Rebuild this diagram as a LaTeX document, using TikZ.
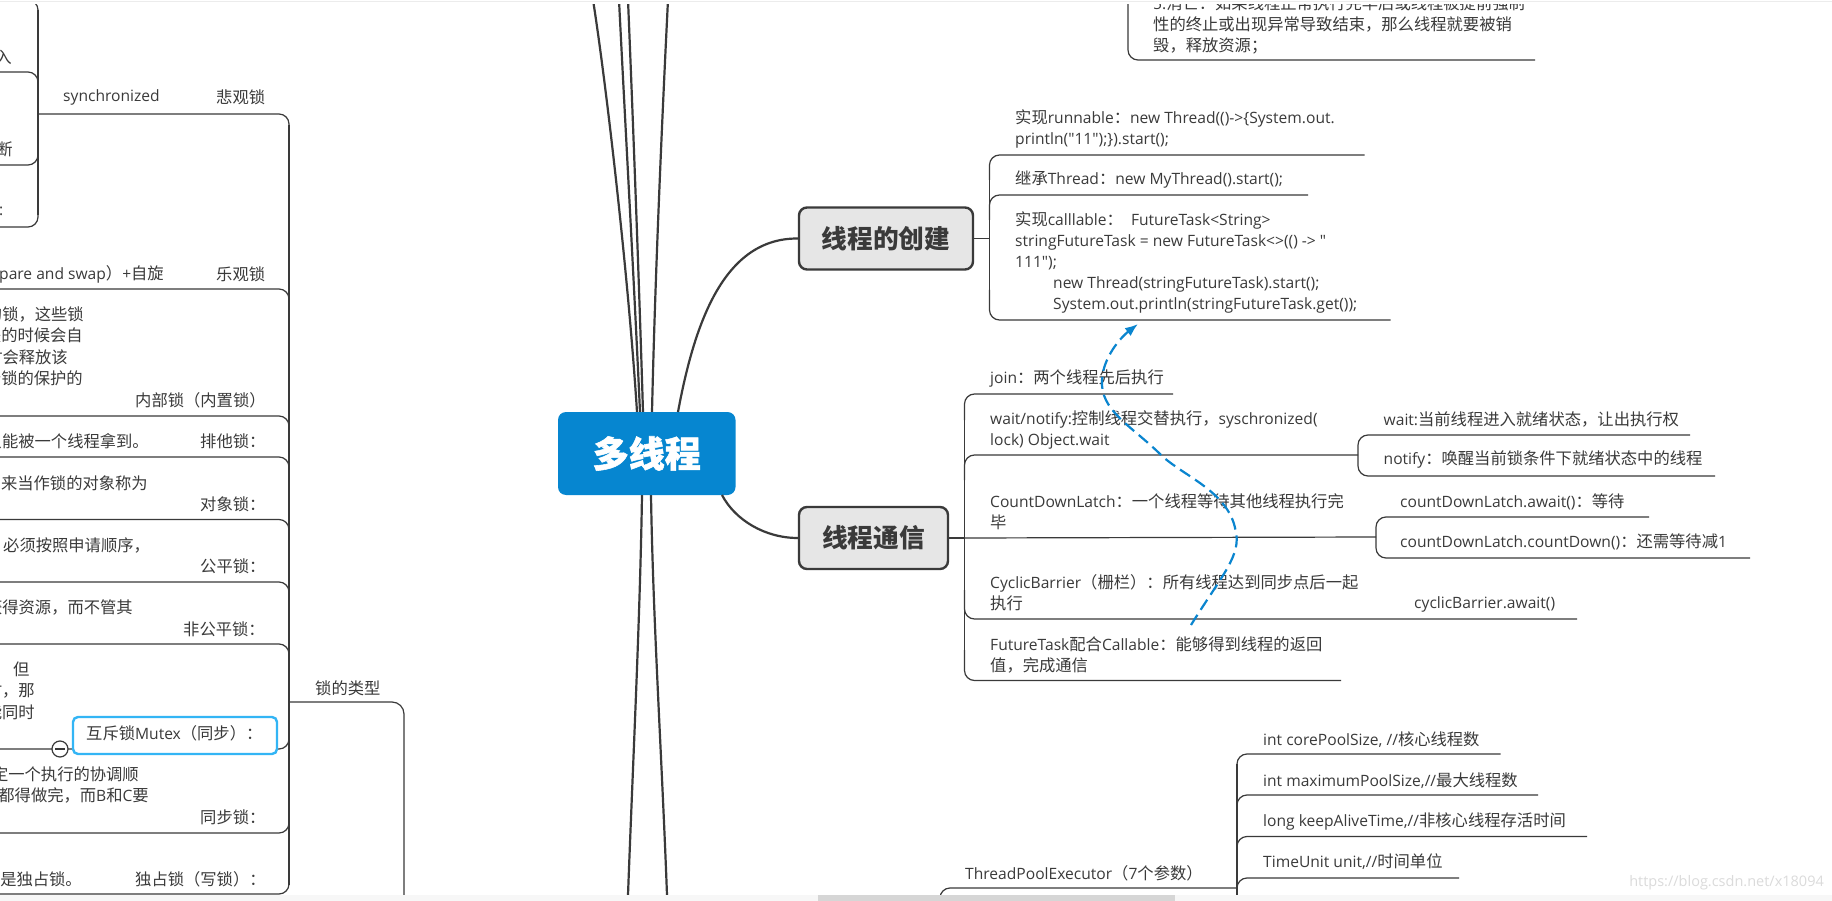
\documentclass[tikz,border=0pt]{standalone}
\usepackage{fontspec}
\usetikzlibrary{arrows.meta}
\setmainfont{Open Sans}
\newfontfamily\latinfont{Open Sans}
\newfontfamily\cjkfont[Scale=1.045]{Noto Sans CJK SC}
\newfontfamily\rootfam[BoldFeatures={FakeBold=1.5}]{Noto Sans CJK SC}
\XeTeXinterchartokenstate=1
\newXeTeXintercharclass\cjkcls
\newcount\cjkc
\cjkc="3000 \loop \XeTeXcharclass\cjkc=\cjkcls \ifnum\cjkc<"9FFF \advance\cjkc 1 \repeat
\cjkc="FF00 \loop \XeTeXcharclass\cjkc=\cjkcls \ifnum\cjkc<"FFEF \advance\cjkc 1 \repeat
\XeTeXinterchartoks 0 \cjkcls={\begingroup\cjkfont}
\XeTeXinterchartoks 4095 \cjkcls={\begingroup\cjkfont}
\XeTeXinterchartoks \cjkcls 0={\endgroup}
\XeTeXinterchartoks \cjkcls 4095={\endgroup}
\definecolor{ink}{HTML}{3A3A3A}
\definecolor{rootblue}{HTML}{0686D0}
\definecolor{topicgray}{HTML}{E6E6E6}
\definecolor{selblue}{HTML}{33B5F5}
\definecolor{arrowblue}{HTML}{0A85CF}
\tikzset{
  x=1pt,y=-1pt,
  txt/.style={inner sep=0pt,yshift=-0.6pt,text=ink,font=\latinfont\fontsize{15.6}{21}\selectfont,align=left},
  tw/.style={txt,anchor=west},
  te/.style={txt,anchor=east},
  rule/.style={draw=ink,line width=1.2pt},
  bracket/.style={rule,rounded corners=10pt},
  trunk/.style={draw=ink,line width=2.2pt},
  topic/.style={rectangle,rounded corners=8pt,draw=ink,line width=2.4pt,fill=topicgray,inner sep=0pt,text=ink,font=\fontsize{24.6}{30}\selectfont\bfseries},
}
\begin{document}
\begin{tikzpicture}
\useasboundingbox (0,0) rectangle (1832,901);
\clip (0,0) rectangle (1832,901);
\fill[white] (0,0) rectangle (1832,901);

% central trunk ends
\coordinate (ta) at (593,0); \coordinate (ra) at (637,412);
\coordinate (tb) at (619,0); \coordinate (rb) at (640,412);
\coordinate (tc) at (628,0); \coordinate (rc) at (643,412);
\coordinate (td) at (668,0); \coordinate (rd) at (652,412);
\coordinate (be) at (628,895); \coordinate (re) at (642,495);
\coordinate (bf) at (667,895); \coordinate (rf) at (651,495);
\coordinate (rg) at (678,412); \coordinate (rh) at (722,495);
\draw[trunk] (ta) .. controls (605,75) and (628,270) .. (ra);
\draw[trunk] (tb) .. controls (625,120) and (634,280) .. (rb);
\draw[trunk] (tc) .. controls (633,120) and (639,280) .. (rc);
\draw[trunk] (td) .. controls (662,120) and (655,280) .. (rd);
\draw[trunk] (re) .. controls (640,620) and (633,760) .. (be);
\draw[trunk] (rf) .. controls (653,620) and (662,760) .. (bf);

\node[rectangle,rounded corners=8pt,fill=rootblue,minimum width=177.5pt,minimum height=83pt,inner sep=0pt,text=white,font=\fontsize{36}{42}\selectfont\let\cjkfont\rootfam\bfseries] (root) at (646.75,453.5) {多线程};
\node[topic,minimum width=174pt,minimum height=62pt] (create) at (886,238.5) {线程的创建};
\node[topic,minimum width=149pt,minimum height=62pt] (comm) at (873.5,538) {线程通信};
\draw[trunk] (rg) .. controls (695,320) and (725,238) .. (create.west);
\draw[trunk] (rh) .. controls (735,520) and (765,538) .. (comm.west);

% ---------- left: lock types
\coordinate (j1) at (38,114);
\coordinate (j2) at (289,702);
\draw[rule,line width=1.6pt] (38,10) -- (38,215);
\draw[bracket] (0,0) -- (38,0) -- (38,30);
\draw[bracket] (0,72) -- (38,72) -- (38,100);
\draw[bracket] (0,165) -- (38,165) -- (38,140);
\draw[bracket] (0,227) -- (38,227) -- (38,200);
\draw[bracket] (j1) -- (289,114) -- (289,150);
\draw[bracket] (0,289) -- (289,289) -- (289,320);
\draw[bracket] (0,416) -- (289,416) -- (289,440);
\draw[bracket] (0,457) -- (289,457) -- (289,480);
\draw[bracket] (0,519.5) -- (289,519.5) -- (289,540);
\draw[bracket] (0,582) -- (289,582) -- (289,600);
\draw[bracket] (0,644) -- (289,644) -- (289,670);
\draw[bracket] (0,749) -- (289,749) -- (289,720);
\draw[bracket] (0,833) -- (289,833) -- (289,800);
\draw[bracket] (0,894) -- (289,894) -- (289,860);
\draw[rule,line width=1.6pt] (289,125) -- (289,885);
\draw[bracket,rounded corners=12pt] (j2) -- (404,702) -- (404,900);

\node[tw] (n1) at (63,97) {synchronized};
\node[tw] (n2) at (216,97) {悲观锁};
\node[te] (n3) at (164,274) {pare and swap）+自旋};
\node[tw] (n4) at (216,274) {乐观锁};
\node[te] (n5) at (12,57) {入};
\node[te] (n6) at (13,149) {断};
\node[tw] (n7) at (-1,211) {:};
\node[te] (n8) at (84,314) {的锁，这些锁};
\node[te] (n9) at (83,335) {块的时候会自};
\node[te] (n10) at (68,357) {时会释放该};
\node[te] (n11) at (83,378) {个锁的保护的};
\node[tw] (n12) at (135,400) {内部锁（内置锁）};
\node[te] (n13) at (149,441) {只能被一个线程拿到。};
\node[tw] (n14) at (200,441) {排他锁：};
\node[te] (n15) at (148,483) {用来当作锁的对象称为};
\node[tw] (n16) at (200,504) {对象锁：};
\node[tw] (n17) at (3,545) {必须按照申请顺序，};
\node[tw] (n18) at (200,566) {公平锁：};
\node[te] (n19) at (133,607) {获得资源，而不管其};
\node[tw] (n20) at (183,629) {非公平锁：};
\node[tw] (n21) at (13,669) {但};
\node[te] (n22) at (35,690) {时，那};
\node[te] (n23) at (35,712) {能同时};
\node[te] (n24) at (139,774) {定一个执行的协调顺};
\node[te] (n25) at (149,795) {都得做完，而B和C要};
\node[tw] (n26) at (200,817) {同步锁：};
\node[te] (n27) at (82,879) {都是独占锁。};
\node[tw] (n28) at (135,879) {独占锁（写锁）：};
\node[tw] (n29) at (315,688) {锁的类型};

\node[rectangle,rounded corners=5pt,draw=selblue,line width=2.4pt,fill=white,minimum width=204pt,minimum height=37pt,inner sep=0pt] (sel) at (175,735.5) {};
\node[tw] (n30) at (86,733) {互斥锁Mutex（同步）：};
\node[circle,draw=ink,line width=1.2pt,fill=white,minimum size=16pt,inner sep=0pt] (fold) at (60,749) {};
\coordinate (fa) at (55,749); \coordinate (fb) at (65,749);
\draw[rule] (fa) -- (fb);

% ---------- top-right fragment
\draw[bracket] (1128,0) -- (1128,60) -- (1535,60);
\node[tw] (m1) at (1153,3) {5.消亡：如果线程正常执行完毕后或线程被提前强制};
\node[tw] (m2) at (1153,24) {性的终止或出现异常导致结束，那么线程就要被销};
\node[tw] (m3) at (1153,45) {毁，释放资源；};

% ---------- creation
\coordinate (c0) at (989.5,238.5);
\draw[rule] (create.east) -- (c0);
\draw[rule,line width=1.6pt] (989.5,165) -- (989.5,310);
\draw[bracket] (989.5,180) -- (989.5,155) -- (1364.5,155);
\draw[bracket] (989.5,220) -- (989.5,195) -- (1308,195);
\draw[bracket] (989.5,290) -- (989.5,320) -- (1390.5,320);
\node[tw] (c1) at (1015,128.5) {实现runnable：new Thread(()->\{System.out.\\println("11");\}).start();};
\node[tw] (c2) at (1015,179) {继承Thread：new MyThread().start();};
\node[tw] (c3) at (1015,261.5) {实现calllable：\ \ FutureTask<String>\\stringFutureTask = new FutureTask<>(() -> "\\111");\\\hspace*{38pt}new Thread(stringFutureTask).start();\\\hspace*{38pt}System.out.println(stringFutureTask.get());};

% ---------- communication
\coordinate (k0) at (964.5,538);
\coordinate (k1) at (1358,455);
\coordinate (k2) at (1376,537);
\draw[rule] (comm.east) -- (k0);
\draw[rule,line width=1.6pt] (964.5,404) -- (964.5,670);
\draw[bracket] (964.5,420) -- (964.5,394) -- (1173,394);
\draw[bracket] (964.5,480) -- (964.5,455) -- (k1);
\draw[rule] (k0) -- (k2);
\draw[bracket] (964.5,590) -- (964.5,619) -- (1577,619);
\draw[bracket] (964.5,650) -- (964.5,680.5) -- (1341,680.5);
\draw[bracket] (1690,435) -- (1358,435) -- (1358,476) -- (1715,476);
\draw[bracket] (1649,517) -- (1376,517) -- (1376,558) -- (1750,558);

\node[tw] (p1) at (990,378) {join：两个线程先后执行};
\node[tw] (p2) at (990,429.5) {wait/notify:控制线程交替执行，syschronized(\\lock) Object.wait};
\node[tw] (p3) at (990,511) {CountDownLatch：一个线程等待其他线程执行完\\毕};
\node[tw] (p4) at (990,592.5) {CyclicBarrier（栅栏）：所有线程达到同步点后一起\\执行};
\node[tw] (p5) at (990,654.5) {FutureTask配合Callable：能够得到线程的返回\\值，完成通信};
\node[tw] (q1) at (1383.5,419) {wait:当前线程进入就绪状态，让出执行权};
\node[tw] (q2) at (1383.5,459) {notify：唤醒当前锁条件下就绪状态中的线程};
\node[tw] (q3) at (1400,501) {countDownLatch.await()：等待};
\node[tw] (q4) at (1400,541) {countDownLatch.countDown()：还需等待减1};
\node[tw] (q5) at (1414,604) {cyclicBarrier.await()};

% ---------- pool
\coordinate (s0) at (1237,888);
\draw[bracket] (940,910) -- (940,888) -- (s0);
\draw[rule,line width=1.6pt] (1237,764) -- (1237,900);
\draw[bracket] (1237,780) -- (1237,754) -- (1500.5,754);
\draw[bracket] (1237,820) -- (1237,795) -- (1538,795);
\draw[bracket] (1237,860) -- (1237,836.5) -- (1587,836.5);
\draw[bracket] (1237,900) -- (1237,878) -- (1459,878);
\node[tw] (w1) at (965,873) {ThreadPoolExecutor（7个参数）};
\node[tw] (w2) at (1263,739) {int corePoolSize, //核心线程数};
\node[tw] (w3) at (1263,780) {int maximumPoolSize,//最大线程数};
\node[tw] (w4) at (1263,821) {long keepAliveTime,//非核心线程存活时间};
\node[tw] (w5) at (1263,861) {TimeUnit unit,//时间单位};

% ---------- dashed relation
\coordinate (rel1) at (1191,625);
\coordinate (rel2) at (1138,324);
\draw[arrowblue,line width=2.2pt,dash pattern=on 12pt off 6pt,-{Latex[length=13pt,width=10pt]}]
  (rel1) .. controls (1222,575) and (1242,555) .. (1235.5,530)
  .. controls (1228,490) and (1180,475) .. (1159,453)
  .. controls (1130,425) and (1100,410) .. (1102,380)
  .. controls (1103,358) and (1120,338) .. (rel2);

% ---------- window chrome
\fill[white] (0,0) rectangle (1832,4);
\fill[gray!15] (0,1.5) rectangle (1832,2.5);
\fill[black!3] (0,895) rectangle (1832,901);
\fill[black!16] (818,895) rectangle (1175,901);
\node[inner sep=0pt,anchor=east,text=black!14,font=\latinfont\fontsize{14.5}{18}\selectfont] (mark) at (1824,883) {https://blog.csdn.net/x18094};
\end{tikzpicture}
\end{document}
